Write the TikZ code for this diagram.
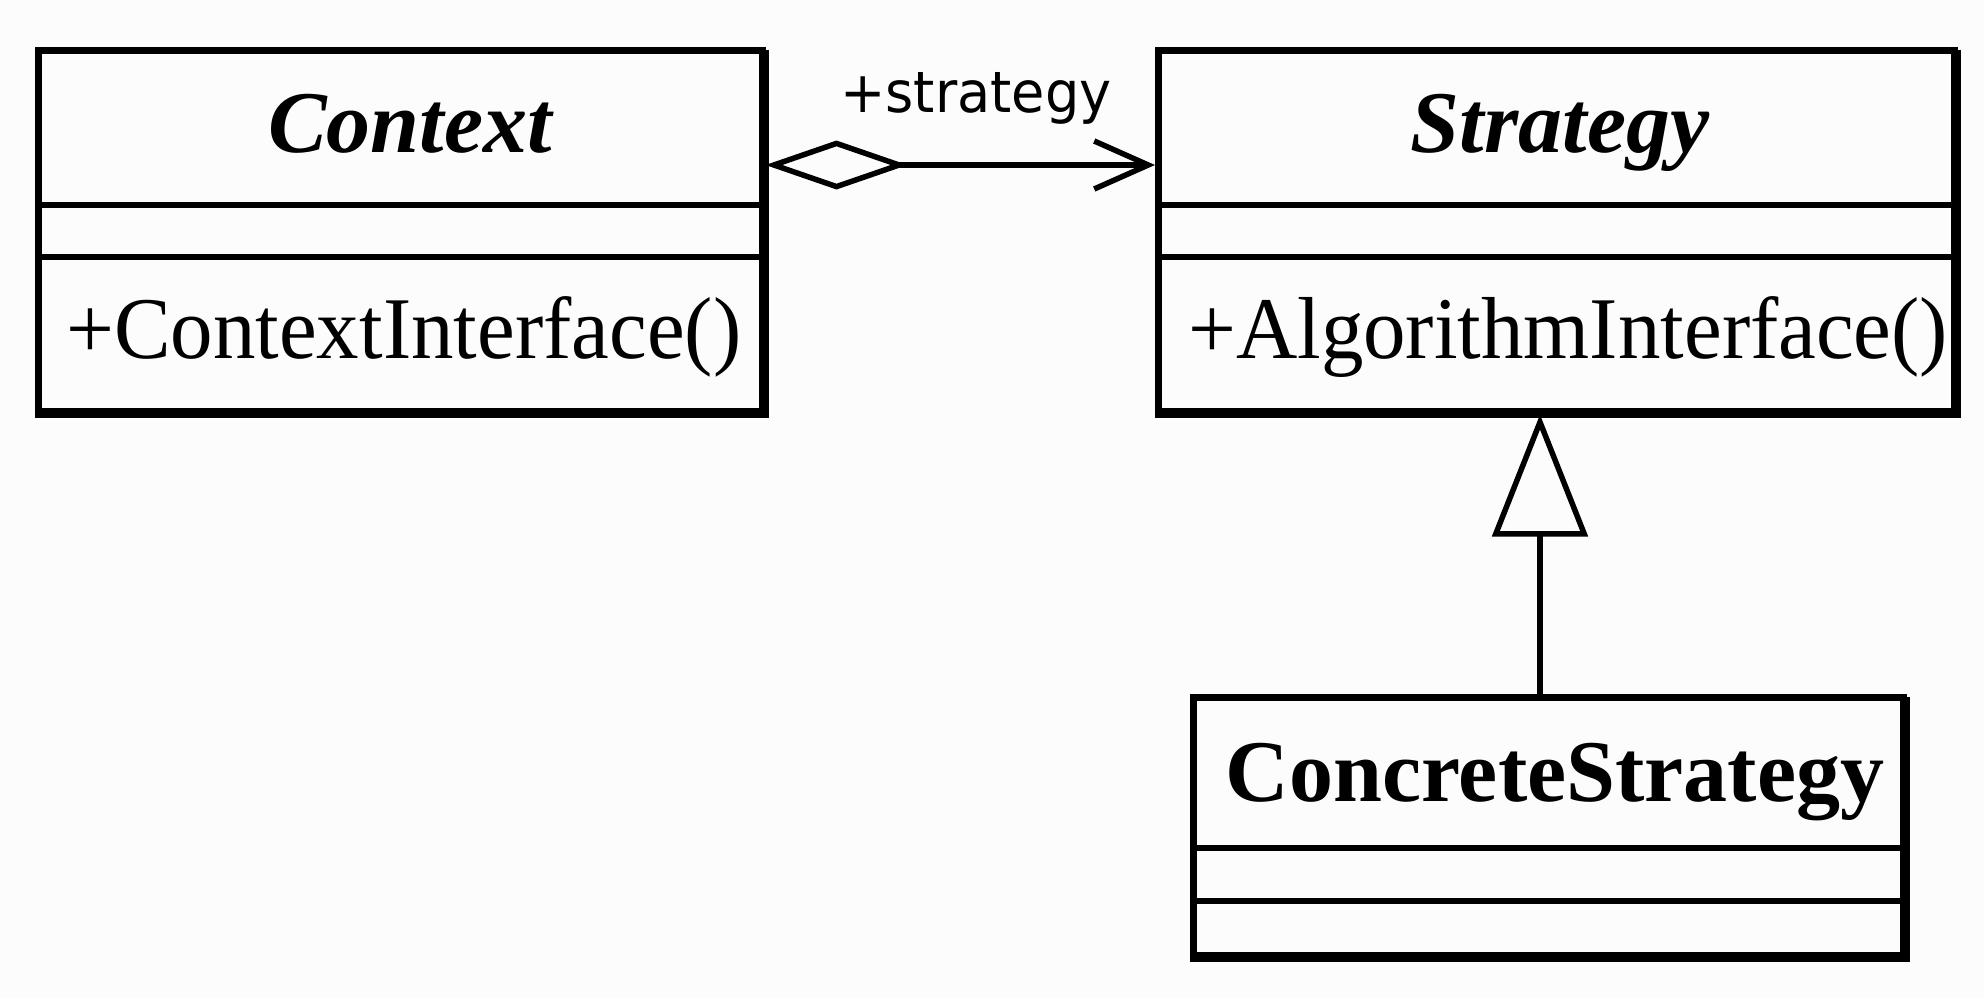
\documentclass[tikz,border=0pt]{standalone}
\usepackage{fontspec}
\setmainfont{Liberation Serif}
\newfontfamily\methodfont[FakeStretch=0.965]{Liberation Serif}
\newfontfamily\rolefont[FakeStretch=0.95]{DejaVu Sans}
\usetikzlibrary{arrows.meta}
\definecolor{bgcol}{RGB}{252,252,252}
\begin{document}
\begin{tikzpicture}[x=1bp,y=1bp,
  classbox/.style={draw, rectangle, line width=7bp, inner sep=0pt, anchor=center},
  shadowline/.style={line width=4bp},
  sepline/.style={line width=6.5bp},
  conn/.style={line width=5.5bp},
  titletext/.style={inner sep=0pt, anchor=base, font=\fontsize{88bp}{100bp}\selectfont\bfseries\itshape},
  concretetext/.style={inner sep=0pt, anchor=base, font=\fontsize{88bp}{100bp}\selectfont\bfseries},
  methodtext/.style={inner sep=0pt, anchor=base west, font=\fontsize{88bp}{100bp}\selectfont\methodfont},
  roletext/.style={inner sep=0pt, anchor=base west, font=\fontsize{57bp}{66bp}\selectfont\rolefont}
]
\fill[bgcol] (0,0) rectangle (1984,-998);
\useasboundingbox (0,0) rectangle (1984,-998);

% class boxes
\node[classbox, minimum width=723bp, minimum height=361bp] (ctx) at (400.5,-230.5) {};
\node[classbox, minimum width=795.5bp, minimum height=361bp] (strat) at (1556.25,-230.5) {};
\node[classbox, minimum width=709.5bp, minimum height=257.5bp] (conc) at (1548.25,-826.25) {};

% shadows (thicker right/bottom edges)
\draw[shadowline] ([shift={(1.5bp,-3bp)}]ctx.north east) -- ([shift={(1.5bp,-1.5bp)}]ctx.south east) -- ([shift={(0bp,-1.5bp)}]ctx.south west);
\draw[shadowline] ([shift={(1.5bp,-3bp)}]strat.north east) -- ([shift={(1.5bp,-1.5bp)}]strat.south east) -- ([shift={(0bp,-1.5bp)}]strat.south west);
\draw[shadowline] ([shift={(1.5bp,-3bp)}]conc.north east) -- ([shift={(1.5bp,-1.5bp)}]conc.south east) -- ([shift={(0bp,-1.5bp)}]conc.south west);

% compartment separators
\coordinate (sepA) at (0,-205);
\coordinate (sepB) at (0,-257);
\coordinate (sepC) at (0,-848);
\coordinate (sepD) at (0,-901);
\draw[sepline] (ctx.west |- sepA) -- (ctx.east |- sepA);
\draw[sepline] (ctx.west |- sepB) -- (ctx.east |- sepB);
\draw[sepline] (strat.west |- sepA) -- (strat.east |- sepA);
\draw[sepline] (strat.west |- sepB) -- (strat.east |- sepB);
\draw[sepline, line width=6bp] (conc.west |- sepC) -- (conc.east |- sepC);
\draw[sepline, line width=6bp] (conc.west |- sepD) -- (conc.east |- sepD);

% texts
\node[titletext] (ctxtitle) at (410,-152) {Context};
\node[titletext] (strattitle) at (1560,-152) {Strategy};
\node[methodtext] (ctxop) at (66,-358) {+ContextInterface()};
\node[methodtext] (stratop) at (1188,-358) {+AlgorithmInterface()};
\node[concretetext] (conctitle) at (1555,-801) {ConcreteStrategy};
\node[roletext] (role) at (840,-112) {+strategy};

% connectors
\coordinate (assocy) at (0,-165);
\draw[conn, {Diamond[open,length=142bp,width=49bp]}-{Straight Barb[length=54bp,width=48bp]}] (ctx.east |- assocy) -- (strat.west |- assocy);
\coordinate (inhx) at (1540,0);
\draw[conn, -{Triangle[open,length=122bp,width=95bp]}] (conc.north -| inhx) -- (strat.south -| inhx);
\end{tikzpicture}
\end{document}
